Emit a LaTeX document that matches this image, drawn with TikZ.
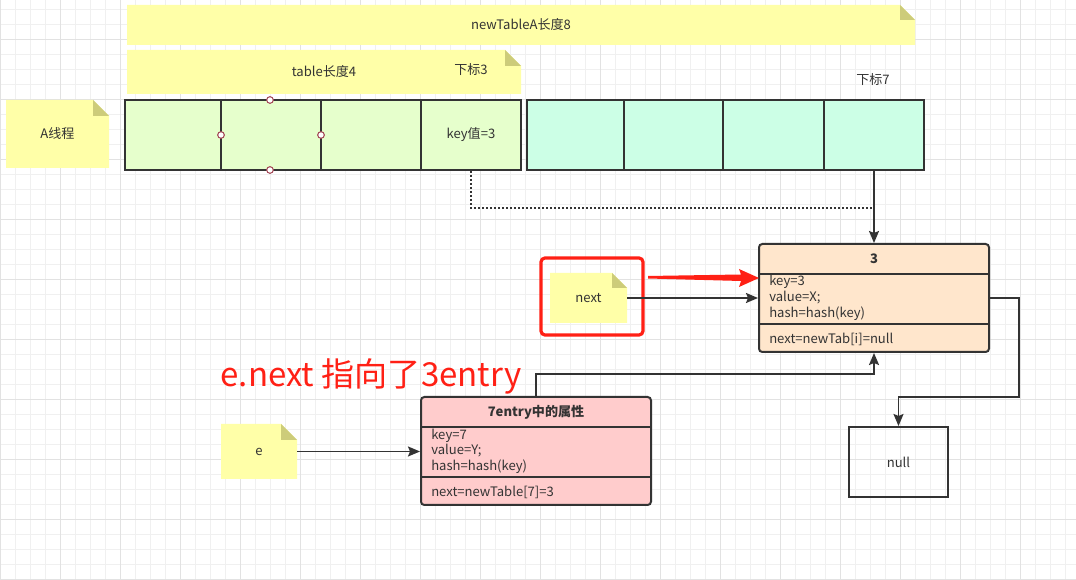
\documentclass[tikz,border=0pt]{standalone}
\usepackage{fontspec}
\setmainfont{Noto Sans CJK SC}
\usetikzlibrary{arrows.meta,calc}
\definecolor{ink}{HTML}{333333}
\definecolor{gridminor}{HTML}{F0F0F0}
\definecolor{gridmajor}{HTML}{E2E2E2}
\definecolor{notefill}{HTML}{FFFFA8}
\definecolor{foldfill}{HTML}{CDCC7A}
\definecolor{greenfill}{HTML}{E6FFCC}
\definecolor{cyanfill}{HTML}{CCFFE6}
\definecolor{orangefill}{HTML}{FFE6CC}
\definecolor{pinkfill}{HTML}{FFCCCC}
\definecolor{alertred}{HTML}{FF2015}
\definecolor{handle}{HTML}{A0404F}
\newcommand{\stickynote}[7]{% name, x1, y1, x2, y2, fold, text
  \fill[notefill] (#2,#3) -- (#4-#6,#3) -- (#4,#3+#6) -- (#4,#5) -- (#2,#5) -- cycle;
  \fill[foldfill] (#4-#6,#3) -- (#4-#6,#3+#6) -- (#4,#3+#6) -- cycle;
  \node[txt, minimum width={(#4-#2)*0.75pt}, minimum height={(#5-#3)*0.75pt}] (#1) at ({(#2+#4)/2},{(#3+#5)/2}) {#7};
}
\begin{document}
\begin{tikzpicture}[x=0.75pt,y=-0.75pt,
  txt/.style={inner sep=0pt, text=ink, font=\fontsize{9.8}{12}\selectfont},
  cellbox/.style={draw=ink, line width=1.5pt, minimum width=75pt, minimum height=52.5pt, inner sep=0pt, text=ink, font=\fontsize{9.8}{12}\selectfont},
  umlbox/.style={draw=ink, line width=1.5pt, rounded corners=2.5pt, minimum width=172.5pt, minimum height=81pt, inner sep=0pt},
  plainbox/.style={draw=ink, line width=1.5pt, minimum width=74.25pt, minimum height=52.5pt, inner sep=0pt, text=ink, font=\fontsize{9.8}{12}\selectfont},
  conn/.style={draw=ink, line width=1.4pt, -{Stealth[length=9pt,width=7.5pt,inset=1.5pt]}},
  umltext/.style={txt, anchor=west},
  handlemark/.style={circle, draw=handle, fill=white, line width=0.75pt, minimum size=5pt, inner sep=0pt}
]
\useasboundingbox (0,0) rectangle (1076,580);
\fill[white] (0,0) rectangle (1076,580);
% grid
\foreach \gx in {0,15,...,1076} \draw[gridminor, line width=0.75pt] (\gx,0) -- (\gx,580);
\foreach \gy in {10,25,...,580} \draw[gridminor, line width=0.75pt] (0,\gy) -- (1076,\gy);
\foreach \gx in {0,60,...,1076} \draw[gridmajor, line width=0.75pt] (\gx,0) -- (\gx,580);
\foreach \gy in {40,100,...,580} \draw[gridmajor, line width=0.75pt] (0,\gy) -- (1076,\gy);

% sticky notes
\stickynote{newA}{127}{5}{915}{45}{15}{newTableA长度8}
\stickynote{tbl}{127}{50}{521}{94}{16}{table长度4}
\node[txt] (idx3) at (471,70) {下标3};
\stickynote{thr}{6}{100}{109}{168}{16}{A线程}
\stickynote{nxt}{550}{273}{627}{323}{15}{next}
\stickynote{e}{221}{424}{297}{479}{16}{e}

% old table (length 4)
\node[cellbox, fill=greenfill, minimum width=72pt] (g1) at (173,135) {};
\node[cellbox, fill=greenfill] (g2) at (271,135) {};
\node[cellbox, fill=greenfill] (g3) at (371,135) {};
\node[cellbox, fill=greenfill] (g4) at (471,135) {key值=3};

% new table part
\node[cellbox, fill=cyanfill, minimum width=72.75pt] (c1) at (575.5,135) {};
\node[cellbox, fill=cyanfill, minimum width=74.25pt] (c2) at (673.5,135) {};
\node[cellbox, fill=cyanfill, minimum width=75.75pt] (c3) at (773.5,135) {};
\node[cellbox, fill=cyanfill] (c4) at (874,135) {};
\node[txt] (idx7) at (873,80) {下标7};

% selection handles
\node[handlemark] (h1) at (270,100) {};
\node[handlemark] (h2) at (221,135) {};
\node[handlemark] (h3) at (321,135) {};
\node[handlemark] (h4) at (270,170) {};

% entry 3
\node[umlbox, fill=orangefill] (b3) at (874,298) {};
\draw[ink, line width=1.5pt] (759,274) -- (989,274);
\draw[ink, line width=1.5pt] (759,324) -- (989,324);
\node[txt, font=\fontsize{9.8}{12}\selectfont\bfseries] (b3h) at (874,259) {3};
\node[umltext] (b3a) at (769,282) {key=3};
\node[umltext] (b3b) at (769,298) {value=X;};
\node[umltext] (b3c) at (769,314) {hash=hash(key)};
\node[umltext] (b3d) at (769,339) {next=newTab[i]=null};

% entry 7
\node[umlbox, fill=pinkfill] (b7) at (536,451) {};
\draw[ink, line width=1.5pt] (421,427) -- (651,427);
\draw[ink, line width=1.5pt] (421,477) -- (651,477);
\node[txt, font=\fontsize{9.8}{12}\selectfont\bfseries] (b7h) at (536,412) {7entry中的属性};
\node[umltext] (b7a) at (431,436) {key=7};
\node[umltext] (b7b) at (431,451) {value=Y;};
\node[umltext] (b7c) at (431,467) {hash=hash(key)};
\node[umltext] (b7d) at (431,492) {next=newTable[7]=3};

% null box
\node[plainbox] (nul) at (898.5,462) {null};

% highlight around next
\node[draw=alertred, line width=2.4pt, rounded corners=3pt, minimum width=76.5pt, minimum height=57.75pt, inner sep=0pt] (hl) at (592,296.5) {};

% red caption
\node[text=alertred, inner sep=0pt, font=\fontsize{24.8}{29}\selectfont] (cap) at (371,376) {e.next 指向了3entry};

% connectors
\coordinate (dotend) at (874,208);
\draw[ink, line width=1.5pt, dash pattern=on 1.5pt off 1.5pt] (g4.south) |- (dotend);
\draw[conn] (c4.south) -- (b3.north);
\draw[conn] (nxt.east) -- (nxt.east -| b3.west);
\coordinate (bend1) at (1019,397);
\draw[conn] (b3.east) -| (bend1) -| (nul.north);
\coordinate (bend2) at (536,374);
\draw[conn] (b7.north) -- (bend2) -| (b3.south);
\draw[conn] (e.east) -- (e.east -| b7.west);

% red wedge arrow
\coordinate (rtail) at (648,277);
\coordinate (rtip) at (759,278);
\fill[alertred] (648,276) -- (741,274.5) -- (739,269) -- (rtip) -- (739,287) -- (741,281) -- (648,278.5) -- cycle;
\end{tikzpicture}
\end{document}
